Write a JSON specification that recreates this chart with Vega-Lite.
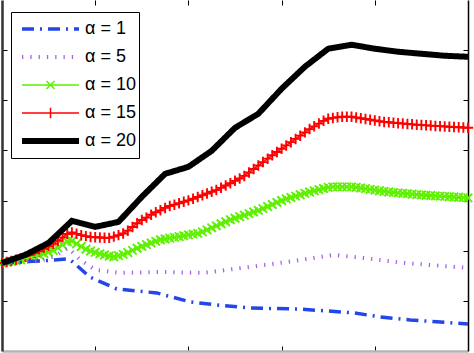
{
"$schema":"https://vega.github.io/schema/vega-lite/v6.json",
"width":466,"height":351,
"autosize":{"type":"none"},
"padding":{"left":2,"top":0,"right":6,"bottom":2},
"background":"white",
"config":{"view":{"stroke":null},"axis":{"grid":false,"labels":false,"title":null,"tickColor":"black","tickSize":-5,"tickWidth":1}},
"data":{"values":[
{"s":"α = 1","x":0,"y":1.756},{"s":"α = 1","x":0.41,"y":1.796},{"s":"α = 1","x":0.71,"y":1.836},{"s":"α = 1","x":0.76,"y":1.776},{"s":"α = 1","x":0.94,"y":1.477},{"s":"α = 1","x":1.23,"y":1.238},{"s":"α = 1","x":1.66,"y":1.158},{"s":"α = 1","x":2.02,"y":0.978},{"s":"α = 1","x":2.31,"y":0.918},{"s":"α = 1","x":2.66,"y":0.858},{"s":"α = 1","x":3.17,"y":0.838},{"s":"α = 1","x":3.49,"y":0.798},{"s":"α = 1","x":3.78,"y":0.758},{"s":"α = 1","x":4.06,"y":0.679},{"s":"α = 1","x":4.38,"y":0.619},{"s":"α = 1","x":5,"y":0.539},
{"s":"α = 5","x":0,"y":1.756},{"s":"α = 5","x":0.41,"y":1.796},{"s":"α = 5","x":0.57,"y":1.896},{"s":"α = 5","x":0.71,"y":2.056},{"s":"α = 5","x":0.84,"y":1.816},{"s":"α = 5","x":1.0,"y":1.617},{"s":"α = 5","x":1.27,"y":1.557},{"s":"α = 5","x":1.7,"y":1.577},{"s":"α = 5","x":2.16,"y":1.557},{"s":"α = 5","x":2.66,"y":1.677},{"s":"α = 5","x":3.06,"y":1.776},{"s":"α = 5","x":3.56,"y":1.916},{"s":"α = 5","x":3.88,"y":1.856},{"s":"α = 5","x":4.31,"y":1.756},{"s":"α = 5","x":5,"y":1.657},
{"s":"α = 10","x":0,"y":1.756},{"s":"α = 10","x":0.05,"y":1.772},{"s":"α = 10","x":0.1,"y":1.787},{"s":"α = 10","x":0.15,"y":1.803},{"s":"α = 10","x":0.2,"y":1.819},{"s":"α = 10","x":0.25,"y":1.843},{"s":"α = 10","x":0.3,"y":1.866},{"s":"α = 10","x":0.35,"y":1.889},{"s":"α = 10","x":0.4,"y":1.912},{"s":"α = 10","x":0.45,"y":1.942},{"s":"α = 10","x":0.5,"y":1.973},{"s":"α = 10","x":0.55,"y":2.004},{"s":"α = 10","x":0.6,"y":2.058},{"s":"α = 10","x":0.65,"y":2.117},{"s":"α = 10","x":0.7,"y":2.179},{"s":"α = 10","x":0.75,"y":2.194},{"s":"α = 10","x":0.8,"y":2.139},{"s":"α = 10","x":0.85,"y":2.084},{"s":"α = 10","x":0.9,"y":2.029},{"s":"α = 10","x":0.95,"y":1.994},{"s":"α = 10","x":1,"y":1.966},{"s":"α = 10","x":1.05,"y":1.937},{"s":"α = 10","x":1.1,"y":1.915},{"s":"α = 10","x":1.15,"y":1.894},{"s":"α = 10","x":1.2,"y":1.88},{"s":"α = 10","x":1.25,"y":1.903},{"s":"α = 10","x":1.3,"y":1.927},{"s":"α = 10","x":1.35,"y":1.962},{"s":"α = 10","x":1.4,"y":2.006},{"s":"α = 10","x":1.45,"y":2.049},{"s":"α = 10","x":1.5,"y":2.088},{"s":"α = 10","x":1.55,"y":2.121},{"s":"α = 10","x":1.6,"y":2.154},{"s":"α = 10","x":1.65,"y":2.187},{"s":"α = 10","x":1.7,"y":2.218},{"s":"α = 10","x":1.75,"y":2.234},{"s":"α = 10","x":1.8,"y":2.25},{"s":"α = 10","x":1.85,"y":2.266},{"s":"α = 10","x":1.9,"y":2.282},{"s":"α = 10","x":1.95,"y":2.298},{"s":"α = 10","x":2,"y":2.315},{"s":"α = 10","x":2.05,"y":2.331},{"s":"α = 10","x":2.1,"y":2.347},{"s":"α = 10","x":2.15,"y":2.376},{"s":"α = 10","x":2.2,"y":2.416},{"s":"α = 10","x":2.25,"y":2.457},{"s":"α = 10","x":2.3,"y":2.497},{"s":"α = 10","x":2.35,"y":2.538},{"s":"α = 10","x":2.4,"y":2.578},{"s":"α = 10","x":2.45,"y":2.617},{"s":"α = 10","x":2.5,"y":2.648},{"s":"α = 10","x":2.55,"y":2.679},{"s":"α = 10","x":2.6,"y":2.71},{"s":"α = 10","x":2.65,"y":2.741},{"s":"α = 10","x":2.7,"y":2.772},{"s":"α = 10","x":2.75,"y":2.803},{"s":"α = 10","x":2.8,"y":2.84},{"s":"α = 10","x":2.85,"y":2.881},{"s":"α = 10","x":2.9,"y":2.921},{"s":"α = 10","x":2.95,"y":2.962},{"s":"α = 10","x":3,"y":3.002},{"s":"α = 10","x":3.05,"y":3.033},{"s":"α = 10","x":3.1,"y":3.061},{"s":"α = 10","x":3.15,"y":3.088},{"s":"α = 10","x":3.2,"y":3.116},{"s":"α = 10","x":3.25,"y":3.144},{"s":"α = 10","x":3.3,"y":3.171},{"s":"α = 10","x":3.35,"y":3.195},{"s":"α = 10","x":3.4,"y":3.218},{"s":"α = 10","x":3.45,"y":3.241},{"s":"α = 10","x":3.5,"y":3.264},{"s":"α = 10","x":3.55,"y":3.273},{"s":"α = 10","x":3.6,"y":3.273},{"s":"α = 10","x":3.65,"y":3.273},{"s":"α = 10","x":3.7,"y":3.273},{"s":"α = 10","x":3.75,"y":3.273},{"s":"α = 10","x":3.8,"y":3.264},{"s":"α = 10","x":3.85,"y":3.25},{"s":"α = 10","x":3.9,"y":3.237},{"s":"α = 10","x":3.95,"y":3.223},{"s":"α = 10","x":4,"y":3.21},{"s":"α = 10","x":4.05,"y":3.196},{"s":"α = 10","x":4.1,"y":3.182},{"s":"α = 10","x":4.15,"y":3.171},{"s":"α = 10","x":4.2,"y":3.162},{"s":"α = 10","x":4.25,"y":3.154},{"s":"α = 10","x":4.3,"y":3.145},{"s":"α = 10","x":4.35,"y":3.137},{"s":"α = 10","x":4.4,"y":3.128},{"s":"α = 10","x":4.45,"y":3.12},{"s":"α = 10","x":4.5,"y":3.112},{"s":"α = 10","x":4.55,"y":3.106},{"s":"α = 10","x":4.6,"y":3.101},{"s":"α = 10","x":4.65,"y":3.095},{"s":"α = 10","x":4.7,"y":3.089},{"s":"α = 10","x":4.75,"y":3.083},{"s":"α = 10","x":4.8,"y":3.077},{"s":"α = 10","x":4.85,"y":3.071},{"s":"α = 10","x":4.9,"y":3.066},{"s":"α = 10","x":4.95,"y":3.06},{"s":"α = 10","x":5,"y":3.054},
{"s":"α = 15","x":0,"y":1.756},{"s":"α = 15","x":0.05,"y":1.777},{"s":"α = 15","x":0.1,"y":1.797},{"s":"α = 15","x":0.15,"y":1.818},{"s":"α = 15","x":0.2,"y":1.842},{"s":"α = 15","x":0.25,"y":1.878},{"s":"α = 15","x":0.3,"y":1.916},{"s":"α = 15","x":0.35,"y":1.953},{"s":"α = 15","x":0.4,"y":1.99},{"s":"α = 15","x":0.45,"y":2.037},{"s":"α = 15","x":0.5,"y":2.087},{"s":"α = 15","x":0.55,"y":2.137},{"s":"α = 15","x":0.6,"y":2.199},{"s":"α = 15","x":0.65,"y":2.266},{"s":"α = 15","x":0.7,"y":2.334},{"s":"α = 15","x":0.75,"y":2.364},{"s":"α = 15","x":0.8,"y":2.336},{"s":"α = 15","x":0.85,"y":2.31},{"s":"α = 15","x":0.9,"y":2.291},{"s":"α = 15","x":0.95,"y":2.274},{"s":"α = 15","x":1,"y":2.27},{"s":"α = 15","x":1.05,"y":2.265},{"s":"α = 15","x":1.1,"y":2.26},{"s":"α = 15","x":1.15,"y":2.256},{"s":"α = 15","x":1.2,"y":2.281},{"s":"α = 15","x":1.25,"y":2.311},{"s":"α = 15","x":1.3,"y":2.343},{"s":"α = 15","x":1.35,"y":2.4},{"s":"α = 15","x":1.4,"y":2.474},{"s":"α = 15","x":1.45,"y":2.549},{"s":"α = 15","x":1.5,"y":2.613},{"s":"α = 15","x":1.55,"y":2.66},{"s":"α = 15","x":1.6,"y":2.718},{"s":"α = 15","x":1.65,"y":2.767},{"s":"α = 15","x":1.7,"y":2.805},{"s":"α = 15","x":1.75,"y":2.854},{"s":"α = 15","x":1.8,"y":2.891},{"s":"α = 15","x":1.85,"y":2.919},{"s":"α = 15","x":1.9,"y":2.948},{"s":"α = 15","x":1.95,"y":2.976},{"s":"α = 15","x":2,"y":3.004},{"s":"α = 15","x":2.05,"y":3.037},{"s":"α = 15","x":2.1,"y":3.071},{"s":"α = 15","x":2.15,"y":3.106},{"s":"α = 15","x":2.2,"y":3.14},{"s":"α = 15","x":2.25,"y":3.175},{"s":"α = 15","x":2.3,"y":3.209},{"s":"α = 15","x":2.35,"y":3.254},{"s":"α = 15","x":2.4,"y":3.3},{"s":"α = 15","x":2.45,"y":3.346},{"s":"α = 15","x":2.5,"y":3.393},{"s":"α = 15","x":2.55,"y":3.44},{"s":"α = 15","x":2.6,"y":3.492},{"s":"α = 15","x":2.65,"y":3.561},{"s":"α = 15","x":2.7,"y":3.63},{"s":"α = 15","x":2.75,"y":3.699},{"s":"α = 15","x":2.8,"y":3.767},{"s":"α = 15","x":2.85,"y":3.836},{"s":"α = 15","x":2.9,"y":3.903},{"s":"α = 15","x":2.95,"y":3.969},{"s":"α = 15","x":3,"y":4.034},{"s":"α = 15","x":3.05,"y":4.1},{"s":"α = 15","x":3.1,"y":4.165},{"s":"α = 15","x":3.15,"y":4.23},{"s":"α = 15","x":3.2,"y":4.295},{"s":"α = 15","x":3.25,"y":4.36},{"s":"α = 15","x":3.3,"y":4.425},{"s":"α = 15","x":3.35,"y":4.48},{"s":"α = 15","x":3.4,"y":4.535},{"s":"α = 15","x":3.45,"y":4.59},{"s":"α = 15","x":3.5,"y":4.633},{"s":"α = 15","x":3.55,"y":4.649},{"s":"α = 15","x":3.6,"y":4.663},{"s":"α = 15","x":3.65,"y":4.671},{"s":"α = 15","x":3.7,"y":4.671},{"s":"α = 15","x":3.75,"y":4.671},{"s":"α = 15","x":3.8,"y":4.657},{"s":"α = 15","x":3.85,"y":4.642},{"s":"α = 15","x":3.9,"y":4.627},{"s":"α = 15","x":3.95,"y":4.612},{"s":"α = 15","x":4,"y":4.597},{"s":"α = 15","x":4.05,"y":4.582},{"s":"α = 15","x":4.1,"y":4.569},{"s":"α = 15","x":4.15,"y":4.561},{"s":"α = 15","x":4.2,"y":4.553},{"s":"α = 15","x":4.25,"y":4.544},{"s":"α = 15","x":4.3,"y":4.536},{"s":"α = 15","x":4.35,"y":4.528},{"s":"α = 15","x":4.4,"y":4.52},{"s":"α = 15","x":4.45,"y":4.511},{"s":"α = 15","x":4.5,"y":4.506},{"s":"α = 15","x":4.55,"y":4.5},{"s":"α = 15","x":4.6,"y":4.495},{"s":"α = 15","x":4.65,"y":4.489},{"s":"α = 15","x":4.7,"y":4.484},{"s":"α = 15","x":4.75,"y":4.478},{"s":"α = 15","x":4.8,"y":4.473},{"s":"α = 15","x":4.85,"y":4.467},{"s":"α = 15","x":4.9,"y":4.462},{"s":"α = 15","x":4.95,"y":4.456},{"s":"α = 15","x":5,"y":4.451},
{"s":"α = 20","x":0,"y":1.756},{"s":"α = 20","x":0.25,"y":1.916},{"s":"α = 20","x":0.5,"y":2.156},{"s":"α = 20","x":0.75,"y":2.595},{"s":"α = 20","x":1,"y":2.475},{"s":"α = 20","x":1.25,"y":2.575},{"s":"α = 20","x":1.5,"y":3.074},{"s":"α = 20","x":1.75,"y":3.533},{"s":"α = 20","x":2,"y":3.673},{"s":"α = 20","x":2.25,"y":3.992},{"s":"α = 20","x":2.5,"y":4.451},{"s":"α = 20","x":2.75,"y":4.731},{"s":"α = 20","x":3,"y":5.23},{"s":"α = 20","x":3.25,"y":5.669},{"s":"α = 20","x":3.5,"y":6.028},{"s":"α = 20","x":3.75,"y":6.108},{"s":"α = 20","x":4,"y":6.028},{"s":"α = 20","x":4.25,"y":5.968},{"s":"α = 20","x":4.5,"y":5.928},{"s":"α = 20","x":4.75,"y":5.888},{"s":"α = 20","x":5,"y":5.868}
]},
"resolve":{"axis":{"x":"independent","y":"independent"}},
"layer":[
{"transform":[{"filter":"datum.s === 'α = 10'"}],
 "mark":{"type":"point","shape":"M-1,-1L1,1M-1,1L1,-1","filled":false,"color":"#5ef000","size":72,"strokeWidth":1.9,"opacity":1},
 "encoding":{
  "x":{"field":"x","type":"quantitative","scale":{"domain":[0,5],"nice":false,"zero":false},"axis":{"orient":"top","values":[1,2,3,4],"domain":false}},
  "y":{"field":"y","type":"quantitative","scale":{"domain":[0,7],"nice":false,"zero":false},"axis":{"orient":"right","values":[1,2,3,4,5,6],"domainColor":"black","domainWidth":1.5}}}},
{"transform":[{"filter":"datum.s === 'α = 15'"}],
 "mark":{"type":"point","shape":"M-1,0H1M0,-1V1","filled":false,"color":"#ff0000","size":110,"strokeWidth":1.9,"opacity":1},
 "encoding":{
  "x":{"field":"x","type":"quantitative","axis":null},
  "y":{"field":"y","type":"quantitative","axis":null}}},
{"mark":{"type":"line","strokeCap":"butt","strokeJoin":"miter"},
 "encoding":{
  "x":{"field":"x","type":"quantitative","axis":{"orient":"bottom","values":[1,2,3,4],"domainColor":"#b4b4b4","domainWidth":2.5}},
  "y":{"field":"y","type":"quantitative","axis":{"orient":"left","values":[1,2,3,4,5,6],"domainColor":"#333333","domainWidth":2.5}},
  "color":{"field":"s","type":"ordinal","scale":{"type":"ordinal","domain":["α = 1","α = 5","α = 10","α = 15","α = 20"],"range":["#2346e8","#a663e8","#5ef000","#ff0000","#000000"]},
   "legend":{"title":null,"orient":"none","legendX":9,"legendY":12,"padding":3,"symbolType":"stroke","symbolSize":3249,"symbolOffset":5,"labelOffset":3,"labelFontSize":18,"labelFont":"Liberation Sans","labelColor":"black","labelBaseline":"middle","clipHeight":28,"rowPadding":0,"strokeColor":"black","fillColor":"white","labelExpr":"datum.label + '\u00a0\u00a0'",
    "encode":{"symbols":{"update":{"shape":{"signal":"datum.value === 'α = 10' ? 'M-1,0H1M-0.14,-0.14L0.14,0.14M-0.14,0.14L0.14,-0.14' : datum.value === 'α = 15' ? 'M-1,0H1M0,-0.18V0.18' : 'stroke'"}}}}}},
  "strokeDash":{"field":"s","type":"ordinal","scale":{"type":"ordinal","domain":["α = 1","α = 5","α = 10","α = 15","α = 20"],"range":[[12,6,2,6],[1.3,7],[1,0],[1,0],[1,0]]}},
  "strokeWidth":{"field":"s","type":"ordinal","scale":{"type":"ordinal","domain":["α = 1","α = 5","α = 10","α = 15","α = 20"],"range":[3.5,4,1.5,1.5,6]}}
 }}
]
}
